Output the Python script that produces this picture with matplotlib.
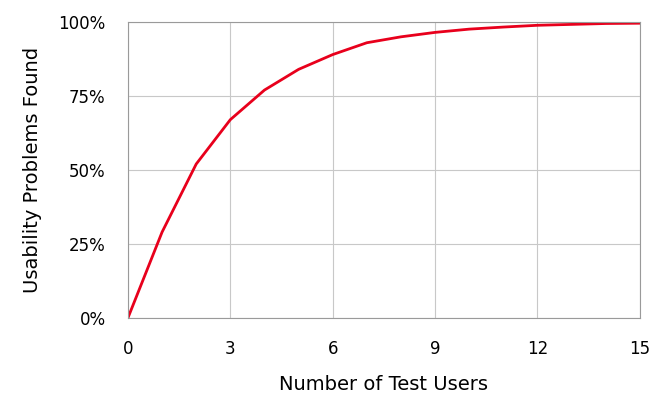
import matplotlib
matplotlib.use("Agg")
import matplotlib.pyplot as plt
from matplotlib.ticker import FuncFormatter

users = list(range(16))
found = [0, 29, 52, 67, 77, 84, 89, 93, 95, 96.5, 97.6, 98.3, 98.9, 99.2, 99.5, 99.6]
xticks = [0, 3, 6, 9, 12, 15]
yticks = [0, 25, 50, 75, 100]

fig = plt.figure(figsize=(6.7, 4.08), dpi=100)
ax = fig.add_axes([0.191, 0.221, 0.764, 0.725])
ax.plot(users, found, color="#e8001c", lw=2)
ax.set_xlim(0, 15)
ax.set_ylim(0, 100)
ax.set_xticks(xticks)
ax.set_yticks(yticks)
ax.yaxis.set_major_formatter(FuncFormatter(lambda v, p: f"{int(v)}%"))
ax.grid(True, color="#c8c8c8", lw=0.8)
for s in ax.spines.values():
    s.set_color("#9a9a9a")
ax.tick_params(axis="x", length=0, labelsize=12, pad=16)
ax.tick_params(axis="y", length=0, labelsize=12, pad=16)
ax.set_xlabel("Number of Test Users", fontsize=14, labelpad=12)
ax.set_ylabel("Usability Problems Found", fontsize=14, labelpad=12)
fig.savefig("out.png")
